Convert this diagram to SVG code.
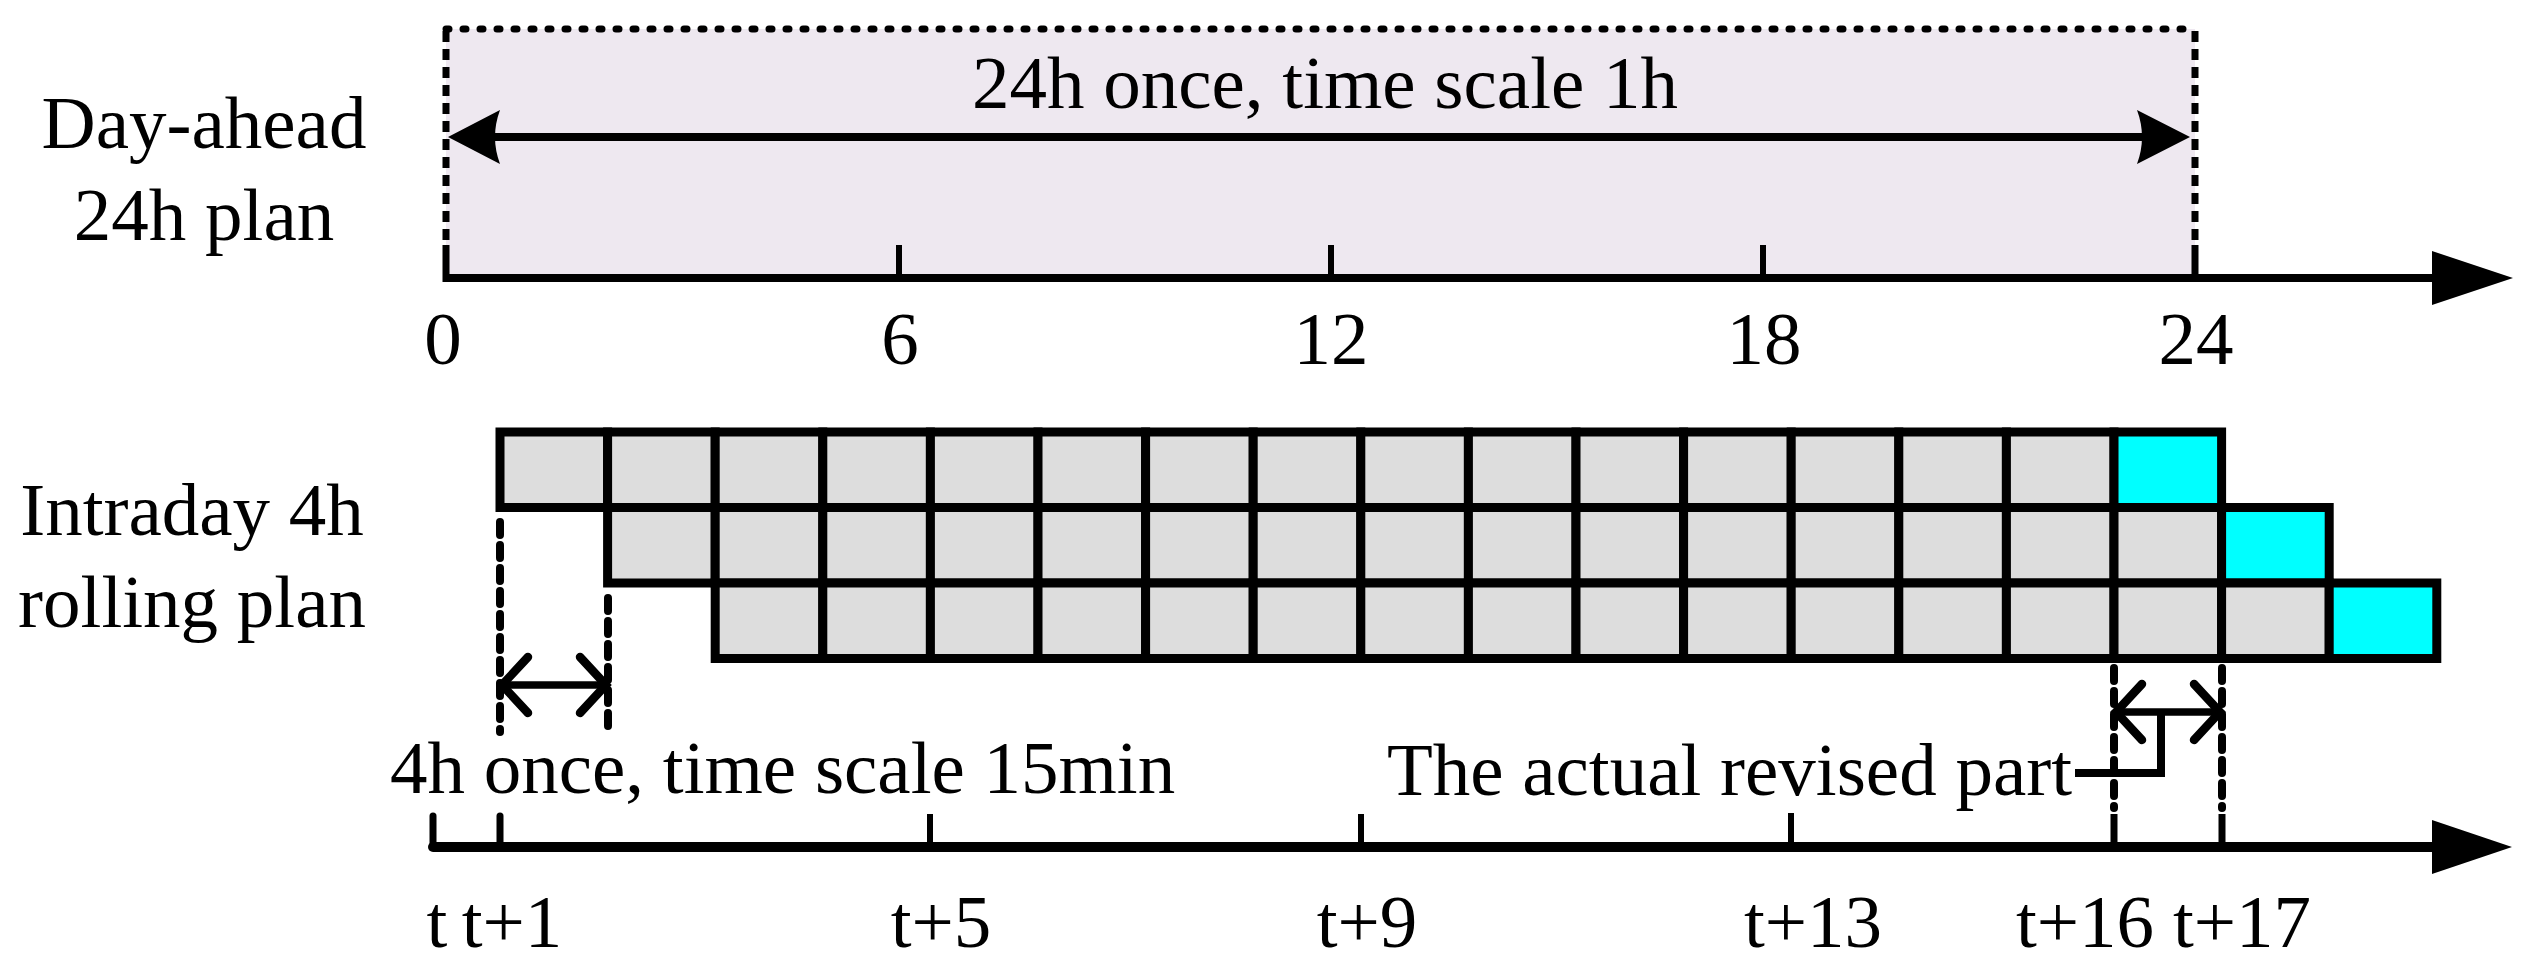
<svg xmlns="http://www.w3.org/2000/svg" width="2528" height="975" viewBox="0 0 2528 975">
<style>
text{font-family:"Liberation Serif","Times New Roman",serif;font-size:75px;fill:#000}
.c{fill:#DDDDDD;stroke:#000;stroke-width:9}
.cy{fill:#00FFFF;stroke:#000;stroke-width:9}
.ln{stroke:#000;fill:none}
.dash{stroke:#000;stroke-width:8;stroke-dasharray:13 10;stroke-linecap:round;fill:none}
.chev{stroke:#000;stroke-width:8.5;fill:none;stroke-linecap:round;stroke-linejoin:miter}
</style>
<rect width="2528" height="975" fill="#fff"/>

<g id="dayahead-label">
<text x="204" y="148" text-anchor="middle">Day-ahead</text>
<text x="204" y="240" text-anchor="middle">24h plan</text>
</g>

<g id="dayahead-box">
<rect x="446" y="29" width="1749" height="249" fill="#EEE8F0"/>
<line x1="446" y1="29" x2="2195" y2="29" stroke="#000" stroke-width="7" stroke-dasharray="3 14" stroke-linecap="round"/>
<line x1="446" y1="31" x2="446" y2="245" stroke="#000" stroke-width="7" stroke-dasharray="11 7" stroke-linecap="butt"/>
<line x1="2195" y1="31" x2="2195" y2="245" stroke="#000" stroke-width="7" stroke-dasharray="11 7" stroke-linecap="butt"/>
<text x="1325" y="108" text-anchor="middle">24h once, time scale 1h</text>
</g>

<g id="top-axis">
<line class="ln" x1="446" y1="278" x2="2440" y2="278" stroke-width="8"/>
<path d="M2513,278 L2432,251 L2432,305 Z" fill="#000"/>
<line class="ln" x1="446" y1="245" x2="446" y2="282" stroke-width="7"/>
<line class="ln" x1="899" y1="245" x2="899" y2="278" stroke-width="6"/>
<line class="ln" x1="1331" y1="245" x2="1331" y2="278" stroke-width="6"/>
<line class="ln" x1="1763" y1="245" x2="1763" y2="278" stroke-width="6"/>
<line class="ln" x1="2195" y1="245" x2="2195" y2="278" stroke-width="7"/>
<text x="443" y="364" text-anchor="middle">0</text>
<text x="900" y="364" text-anchor="middle">6</text>
<text x="1331" y="364" text-anchor="middle">12</text>
<text x="1764" y="364" text-anchor="middle">18</text>
<text x="2196" y="364" text-anchor="middle">24</text>
</g>

<g id="connectors">
<line class="ln" x1="495" y1="137" x2="2142" y2="137" stroke-width="8"/>
<path d="M448,137 L500,110 Q490,137 500,164 Z" fill="#000"/>
<path d="M2190,137 L2137,110 Q2147,137 2137,164 Z" fill="#000"/>
</g>

<g id="intraday-label">
<text x="192" y="535" text-anchor="middle">Intraday 4h</text>
<text x="192" y="627" text-anchor="middle">rolling plan</text>
</g>

<g id="grid-row1">
<rect class="c" x="500" y="432" width="107.6" height="75.5"/>
<rect class="c" x="607.6" y="432" width="107.6" height="75.5"/>
<rect class="c" x="715.2" y="432" width="107.6" height="75.5"/>
<rect class="c" x="822.8" y="432" width="107.6" height="75.5"/>
<rect class="c" x="930.4" y="432" width="107.6" height="75.5"/>
<rect class="c" x="1038" y="432" width="107.6" height="75.5"/>
<rect class="c" x="1145.6" y="432" width="107.6" height="75.5"/>
<rect class="c" x="1253.2" y="432" width="107.6" height="75.5"/>
<rect class="c" x="1360.8" y="432" width="107.6" height="75.5"/>
<rect class="c" x="1468.4" y="432" width="107.6" height="75.5"/>
<rect class="c" x="1576" y="432" width="107.6" height="75.5"/>
<rect class="c" x="1683.6" y="432" width="107.6" height="75.5"/>
<rect class="c" x="1791.2" y="432" width="107.6" height="75.5"/>
<rect class="c" x="1898.8" y="432" width="107.6" height="75.5"/>
<rect class="c" x="2006.4" y="432" width="107.6" height="75.5"/>
<rect class="cy" x="2114" y="432" width="107.6" height="75.5"/>
</g>

<g id="grid-row2">
<rect class="c" x="607.6" y="507.5" width="107.6" height="75.5"/>
<rect class="c" x="715.2" y="507.5" width="107.6" height="75.5"/>
<rect class="c" x="822.8" y="507.5" width="107.6" height="75.5"/>
<rect class="c" x="930.4" y="507.5" width="107.6" height="75.5"/>
<rect class="c" x="1038" y="507.5" width="107.6" height="75.5"/>
<rect class="c" x="1145.6" y="507.5" width="107.6" height="75.5"/>
<rect class="c" x="1253.2" y="507.5" width="107.6" height="75.5"/>
<rect class="c" x="1360.8" y="507.5" width="107.6" height="75.5"/>
<rect class="c" x="1468.4" y="507.5" width="107.6" height="75.5"/>
<rect class="c" x="1576" y="507.5" width="107.6" height="75.5"/>
<rect class="c" x="1683.6" y="507.5" width="107.6" height="75.5"/>
<rect class="c" x="1791.2" y="507.5" width="107.6" height="75.5"/>
<rect class="c" x="1898.8" y="507.5" width="107.6" height="75.5"/>
<rect class="c" x="2006.4" y="507.5" width="107.6" height="75.5"/>
<rect class="c" x="2114" y="507.5" width="107.6" height="75.5"/>
<rect class="cy" x="2221.6" y="507.5" width="107.6" height="75.5"/>
</g>

<g id="grid-row3">
<rect class="c" x="715.2" y="583" width="107.6" height="75.5"/>
<rect class="c" x="822.8" y="583" width="107.6" height="75.5"/>
<rect class="c" x="930.4" y="583" width="107.6" height="75.5"/>
<rect class="c" x="1038" y="583" width="107.6" height="75.5"/>
<rect class="c" x="1145.6" y="583" width="107.6" height="75.5"/>
<rect class="c" x="1253.2" y="583" width="107.6" height="75.5"/>
<rect class="c" x="1360.8" y="583" width="107.6" height="75.5"/>
<rect class="c" x="1468.4" y="583" width="107.6" height="75.5"/>
<rect class="c" x="1576" y="583" width="107.6" height="75.5"/>
<rect class="c" x="1683.6" y="583" width="107.6" height="75.5"/>
<rect class="c" x="1791.2" y="583" width="107.6" height="75.5"/>
<rect class="c" x="1898.8" y="583" width="107.6" height="75.5"/>
<rect class="c" x="2006.4" y="583" width="107.6" height="75.5"/>
<rect class="c" x="2114" y="583" width="107.6" height="75.5"/>
<rect class="c" x="2221.6" y="583" width="107.6" height="75.5"/>
<rect class="cy" x="2329.2" y="583" width="107.6" height="75.5"/>
</g>

<g id="interval-4h">
<line class="dash" x1="500" y1="522" x2="500" y2="732"/>
<line class="dash" x1="608" y1="598" x2="608" y2="736"/>
<line class="ln" x1="502" y1="685" x2="606" y2="685" stroke-width="7.5"/>
<path class="chev" d="M528,657 L502,685 L528,713"/>
<path class="chev" d="M580,657 L606,685 L580,713"/>
<text x="390" y="793">4h once, time scale 15min</text>
</g>

<g id="revised-part">
<line class="dash" x1="2114" y1="668" x2="2114" y2="808"/>
<line class="dash" x1="2222" y1="668" x2="2222" y2="808"/>
<line class="ln" x1="2116" y1="712" x2="2220" y2="712" stroke-width="7.5"/>
<path class="chev" d="M2142,684 L2116,712 L2142,740"/>
<path class="chev" d="M2194,684 L2220,712 L2194,740"/>
<path class="ln" d="M2161,712 V773 H2075" stroke-width="8"/>
<text x="2072" y="795" text-anchor="end">The actual revised part</text>
</g>

<g id="bottom-axis">
<line class="ln" x1="433" y1="847" x2="2440" y2="847" stroke-width="10" stroke-linecap="round"/>
<path d="M2512,847 L2432,820 L2432,874 Z" fill="#000"/>
<line class="ln" x1="433" y1="816" x2="433" y2="847" stroke-width="7" stroke-linecap="round"/>
<line class="ln" x1="500" y1="816" x2="500" y2="847" stroke-width="7" stroke-linecap="round"/>
<line class="ln" x1="930" y1="814" x2="930" y2="847" stroke-width="6"/>
<line class="ln" x1="1361" y1="814" x2="1361" y2="847" stroke-width="6"/>
<line class="ln" x1="1791" y1="813" x2="1791" y2="847" stroke-width="6"/>
<line class="ln" x1="2114" y1="814" x2="2114" y2="847" stroke-width="7"/>
<line class="ln" x1="2222" y1="814" x2="2222" y2="847" stroke-width="7"/>
<text x="437" y="947" text-anchor="middle">t</text>
<text x="512" y="947" text-anchor="middle">t+1</text>
<text x="941" y="947" text-anchor="middle">t+5</text>
<text x="1367" y="947" text-anchor="middle">t+9</text>
<text x="1813" y="947" text-anchor="middle">t+13</text>
<text x="2085" y="947" text-anchor="middle">t+16</text>
<text x="2242" y="947" text-anchor="middle">t+17</text>
</g>
</svg>
